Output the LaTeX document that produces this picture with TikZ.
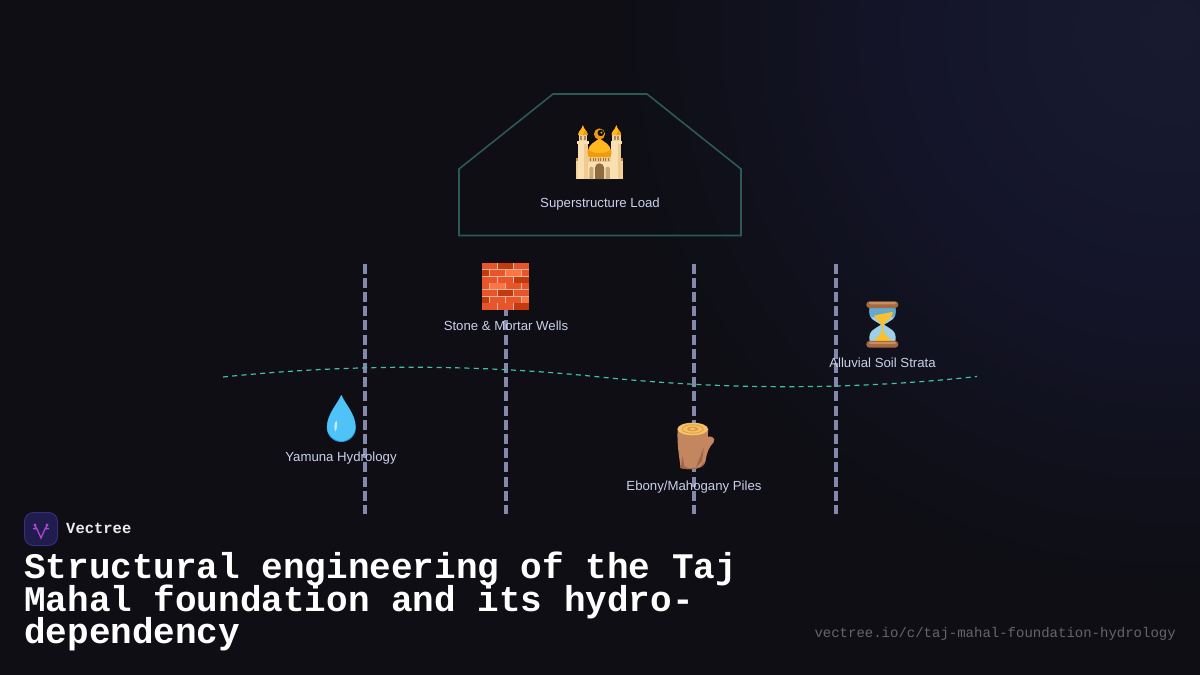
\documentclass[tikz,border=0pt]{standalone}
\usepackage{fontspec}
\setmainfont{Liberation Sans}
\newfontfamily\monof{Liberation Mono}
\setlength{\lineskiplimit}{-100pt}
\definecolor{bgbase}{HTML}{0E0E14}
\definecolor{bgblue}{HTML}{181B30}
\definecolor{bgmid}{HTML}{14152A}
\definecolor{pile}{HTML}{8488AC}
\definecolor{wave}{HTML}{3EC4A4}
\definecolor{hull}{HTML}{2B5A55}
\definecolor{lab}{HTML}{C9D0EA}
\definecolor{urlc}{HTML}{666669}
\definecolor{bE}{HTML}{E8552A}
\definecolor{bD}{HTML}{C23A0E}
\definecolor{bL}{HTML}{FF7445}
\definecolor{mort}{HTML}{DDB49C}
\definecolor{tan}{HTML}{F3D29B}
\definecolor{cream}{HTML}{F9E0B2}
\definecolor{gold}{HTML}{FFB81F}
\definecolor{goldd}{HTML}{F29A0C}
\definecolor{orng}{HTML}{D98A3A}
\definecolor{doord}{HTML}{8F6B42}
\definecolor{doorl}{HTML}{C9A877}
\definecolor{wood}{HTML}{A5683F}
\definecolor{woodl}{HTML}{C98F62}
\definecolor{glass}{HTML}{9CCFE8}
\definecolor{glassd}{HTML}{5FA9D2}
\definecolor{sand}{HTML}{FBC02D}
\definecolor{drop}{HTML}{4FC3F7}
\definecolor{dropd}{HTML}{1E9FDB}
\definecolor{logl}{HTML}{C4865E}
\definecolor{logd}{HTML}{A0664A}
\definecolor{ringa}{HTML}{F5C26B}
\definecolor{ringb}{HTML}{E09A3A}
\definecolor{logobg}{HTML}{201D4C}
\definecolor{logoe}{HTML}{332F80}
\definecolor{logog}{HTML}{B044D8}
\pgfdeclareradialshading{bgglow}{\pgfpointorigin}{
 color(0bp)=(bgblue); color(11bp)=(bgmid); color(25bp)=(bgbase); color(50bp)=(bgbase)}
\tikzset{
 x=1pt,y=-1pt,
 pilesty/.style={draw=pile,line width=4pt,dash pattern=on 10pt off 4.2pt},
 wavesty/.style={draw=wave,line width=1.2pt,dash pattern=on 5pt off 4.3pt},
 labl/.style={text=lab,font=\fontsize{13.2}{16}\selectfont,inner sep=0pt,anchor=base},
 titl/.style={inner sep=0pt,anchor=south west,align=left,text=white,font=\monof\bfseries\fontsize{36}{32.4}\selectfont},
}
\newcommand{\rowbricks}[3]{\foreach \xa/\xb/\cc in {#3}{\fill[\cc] (\xa,#1) rectangle (\xb,#2);}}
\begin{document}
\begin{tikzpicture}
\useasboundingbox (0,0) rectangle (1200,675);
\fill[bgbase] (0,0) rectangle (1200,675);
\begin{scope}
\clip (0,0) rectangle (1200,675);
\shade[shading=bgglow] (1170,30) circle (560);
\end{scope}
% hull
\draw[hull,line width=1.6pt,line join=miter] (553,94) -- (647,94) -- (741,169) -- (741,235.5) -- (459,235.5) -- (459,169) -- cycle;
% piles
\foreach \n/\xx in {a/364.5,b/506,c/694,d/835.5}{
 \coordinate (\n t) at (\xx,263.5);
 \coordinate (\n b) at (\xx,513.5);
 \draw[pilesty] (\n t) -- (\n b);
}
% wave
\coordinate (wl) at (223,377);
\coordinate (wm) at (600,377);
\coordinate (wr) at (977,376.5);
\draw[wavesty] (wl) .. controls (349,364) and (474,364) .. (wm) .. controls (726,390) and (851,390) .. (wr);
% mosque
\fill[tan] (576,159) rectangle (623,179);
\fill[orng] (576,158) rectangle (588,160.5);
\fill[orng] (611,158) rectangle (623,160.5);
\foreach \cx in {582.9,616.3}{
 \fill[cream] (\cx-5,141) rectangle (\cx+5,179);
 \fill[tan!90!orng] (\cx+1.5,141) rectangle (\cx+5,179);
 \fill[cream] (\cx-5.7,140.5) rectangle (\cx+5.7,143.5);
 \fill[tan] (\cx-4.3,134.5) rectangle (\cx+4.3,141);
 \fill[doord!70!tan] (\cx-2.7,136) rectangle (\cx-.8,140);
 \fill[doord!70!tan] (\cx+.8,136) rectangle (\cx+2.7,140);
 \fill[gold] (\cx-4.8,135) .. controls (\cx-5,131) and (\cx-1,130) .. (\cx,125) .. controls (\cx+1,130) and (\cx+5,131) .. (\cx+4.8,135) -- cycle;
 \fill[goldd] (\cx,135) -- (\cx+4.8,135) .. controls (\cx+5,132) and (\cx+3,131) .. (\cx+2,130) -- cycle;
}
\fill[cream] (588,156) rectangle (611,179);
\fill[goldd] (588.5,157) .. controls (585.5,149) and (591,144) .. (595,141.5) .. controls (597.5,140) and (599,139) .. (599.5,137) .. controls (600,139) and (601.5,140) .. (604,141.5) .. controls (608,144) and (613.5,149) .. (610.5,157) -- cycle;
\fill[gold] (588.6,150) .. controls (589,146) and (592,144) .. (595,141.8) .. controls (597.5,140.3) and (599,139.3) .. (599.5,137.5) .. controls (600,139.3) and (601.5,140.3) .. (604,141.8) .. controls (607,144) and (610,146) .. (610.4,150) .. controls (605,154) and (594,154) .. (588.6,150) -- cycle;
\fill[tan!85!orng] (588,156.5) rectangle (611,162);
\foreach \dx in {590,592.5,...,609}{\fill[doord!80!orng] (\dx,158) rectangle (\dx+1.2,160.5);}
\fill[goldd,even odd rule] (599.5,134) circle (5.6) (600.8,132.9) circle (3.4);
\fill[goldd] (601.4,132.6) circle (1.1);
\fill[doorl] (589.4,179) -- (589.4,169) .. controls (589.4,167.5) and (590.5,166.7) .. (591.4,166.7) .. controls (592.3,166.7) and (593.4,167.5) .. (593.4,169) -- (593.4,179) -- cycle;
\fill[doorl] (605.7,179) -- (605.7,169) .. controls (605.7,167.5) and (606.8,166.7) .. (607.8,166.7) .. controls (608.8,166.7) and (609.9,167.5) .. (609.9,169) -- (609.9,179) -- cycle;
\fill[doord] (595,179) -- (595,167.5) .. controls (595,165) and (597.5,163.3) .. (599.5,163.3) .. controls (601.5,163.3) and (604,165) .. (604,167.5) -- (604,179) -- cycle;
% bricks
\fill[mort] (482,263) rectangle (529,309.7);
\rowbricks{263}{269.3}{482/497.4/bE,498/512.9/bD,513.6/529/bE}
\rowbricks{269.8}{276}{482/489.2/bD,489.8/505.2/bE,505.8/521.2/bL,521.8/529/bE}
\rowbricks{276.5}{282.7}{482/497.4/bE,498/512.9/bE,513.6/529/bD}
\rowbricks{283.2}{289.4}{482/489.2/bE,489.8/505.2/bL,505.8/521.2/bE,521.8/529/bE}
\rowbricks{289.9}{296.1}{482/497.4/bE,498/512.9/bD,513.6/529/bE}
\rowbricks{296.6}{302.8}{482/489.2/bD,489.8/505.2/bE,505.8/521.2/bE,521.8/529/bL}
\rowbricks{303.3}{309.7}{482/497.4/bE,498/512.9/bE,513.6/529/bD}
% hourglass
\fill[glass] (869.8,307) .. controls (867,320) and (876,321) .. (881,324.7) .. controls (876,328.5) and (867,330) .. (869.8,342) -- (895.2,342) .. controls (898,330) and (889,328.5) .. (884,324.7) .. controls (889,321) and (898,320) .. (895.2,307) -- cycle;
\fill[glassd] (869.8,307) -- (895.2,307) .. controls (895.8,311) and (895.5,314) .. (894,317) -- (871,317) .. controls (869.5,314) and (869.2,311) .. (869.8,307) -- cycle;
\fill[sand] (874,315.5) -- (893,311.8) .. controls (893,318) and (886,320) .. (883.4,324.7) -- (883.2,331) .. controls (885,336) and (890,338) .. (892.5,341.5) -- (873,341.5) .. controls (876,338) and (880,336) .. (881.6,331) -- (881.4,324.7) .. controls (879,321) and (875.5,319) .. (874,315.5) -- cycle;
\fill[wood,rounded corners=3.2pt] (866.3,301.3) rectangle (898.3,308);
\fill[woodl,rounded corners=1pt] (869,302.2) rectangle (896,304.4);
\fill[wood,rounded corners=3.2pt] (866.3,340.9) rectangle (898.3,347.7);
\fill[woodl,rounded corners=1pt] (869,342) rectangle (896,344.2);
% drop
\fill[dropd] (341.3,395) .. controls (345,404) and (355.8,414) .. (355.8,427.7) .. controls (355.8,435.6) and (349.3,442) .. (341.3,442) .. controls (333.3,442) and (326.8,435.6) .. (326.8,427.7) .. controls (326.8,414) and (337.6,404) .. (341.3,395) -- cycle;
\fill[drop] (341.3,395) .. controls (345,404) and (355.5,414) .. (355.5,427) .. controls (355.5,434.6) and (349,441) .. (341.3,441) .. controls (333.6,441) and (327.1,434.6) .. (327.1,427) .. controls (327.1,414) and (337.6,404) .. (341.3,395) -- cycle;
\fill[white!65!drop] (335.5,431.5) .. controls (333.5,428) and (334,423) .. (336.5,420.5) .. controls (337.6,424) and (337.4,428) .. (335.5,431.5) -- cycle;
% log
\fill[logl] (677.7,429) -- (708.3,429) -- (707.8,436.5) -- (712,436.8) .. controls (714.8,437.2) and (714.8,440.5) .. (713.5,442.5) .. controls (709,447) and (707,452) .. (705.5,461) .. controls (704.5,468.5) and (692,471) .. (680.5,468) .. controls (680,460) and (676.5,445) .. (677.7,429) -- cycle;
\fill[logd] (680.5,468) -- (682.5,456) -- (684.5,466.5) -- (690,468.5) -- (700,467) -- (705.5,461) .. controls (704.5,468.5) and (692,471) .. (680.5,468) -- cycle;
\fill[logd] (696,467) -- (704,447) -- (702,461) -- cycle;
\fill[ringa] (692.7,429) ellipse[x radius=15.3,y radius=6.3];
\draw[ringb,line width=.8pt] (692.7,429) ellipse[x radius=10.5,y radius=4.2];
\fill[ringb] (692.7,429) ellipse[x radius=6,y radius=2.2];
\fill[ringa] (692.7,429) ellipse[x radius=2.8,y radius=1];
% labels
\node[labl] (superload) at (600,207) {Superstructure Load};
\node[labl] (wells) at (506,330) {Stone \& Mortar Wells};
\node[labl] (soil) at (882.5,367) {Alluvial Soil Strata};
\node[labl] (yamuna) at (341,461) {Yamuna Hydrology};
\node[labl] (piles) at (694,490) {Ebony/Mahogany Piles};
% logo
\draw[logoe,fill=logobg,line width=1pt,rounded corners=9pt] (24.5,512.5) rectangle (57.5,545.5);
\draw[logog,line width=1.3pt] (35,526) -- (37,529) -- (41,538) -- (45,529) -- (47,526) (37,529) -- (33,528.5) (45,529) -- (49,528.5);
\fill[logog] (35,525) circle (1.7) (47,525) circle (1.7);
\node[inner sep=0pt,anchor=base west,text=white!92!black,font=\monof\bfseries\fontsize{15.5}{18}\selectfont] (brand) at (66,533) {Vectree};
\node[titl] (title) at (24,651.3) {Structural engineering of the Taj\\Mahal foundation and its hydro-\\dependency};
\node[inner sep=0pt,anchor=base east,text=urlc,font=\monof\fontsize{14}{16}\selectfont] (url) at (1176,637) {vectree.io/c/taj-mahal-foundation-hydrology};
\end{tikzpicture}
\end{document}
